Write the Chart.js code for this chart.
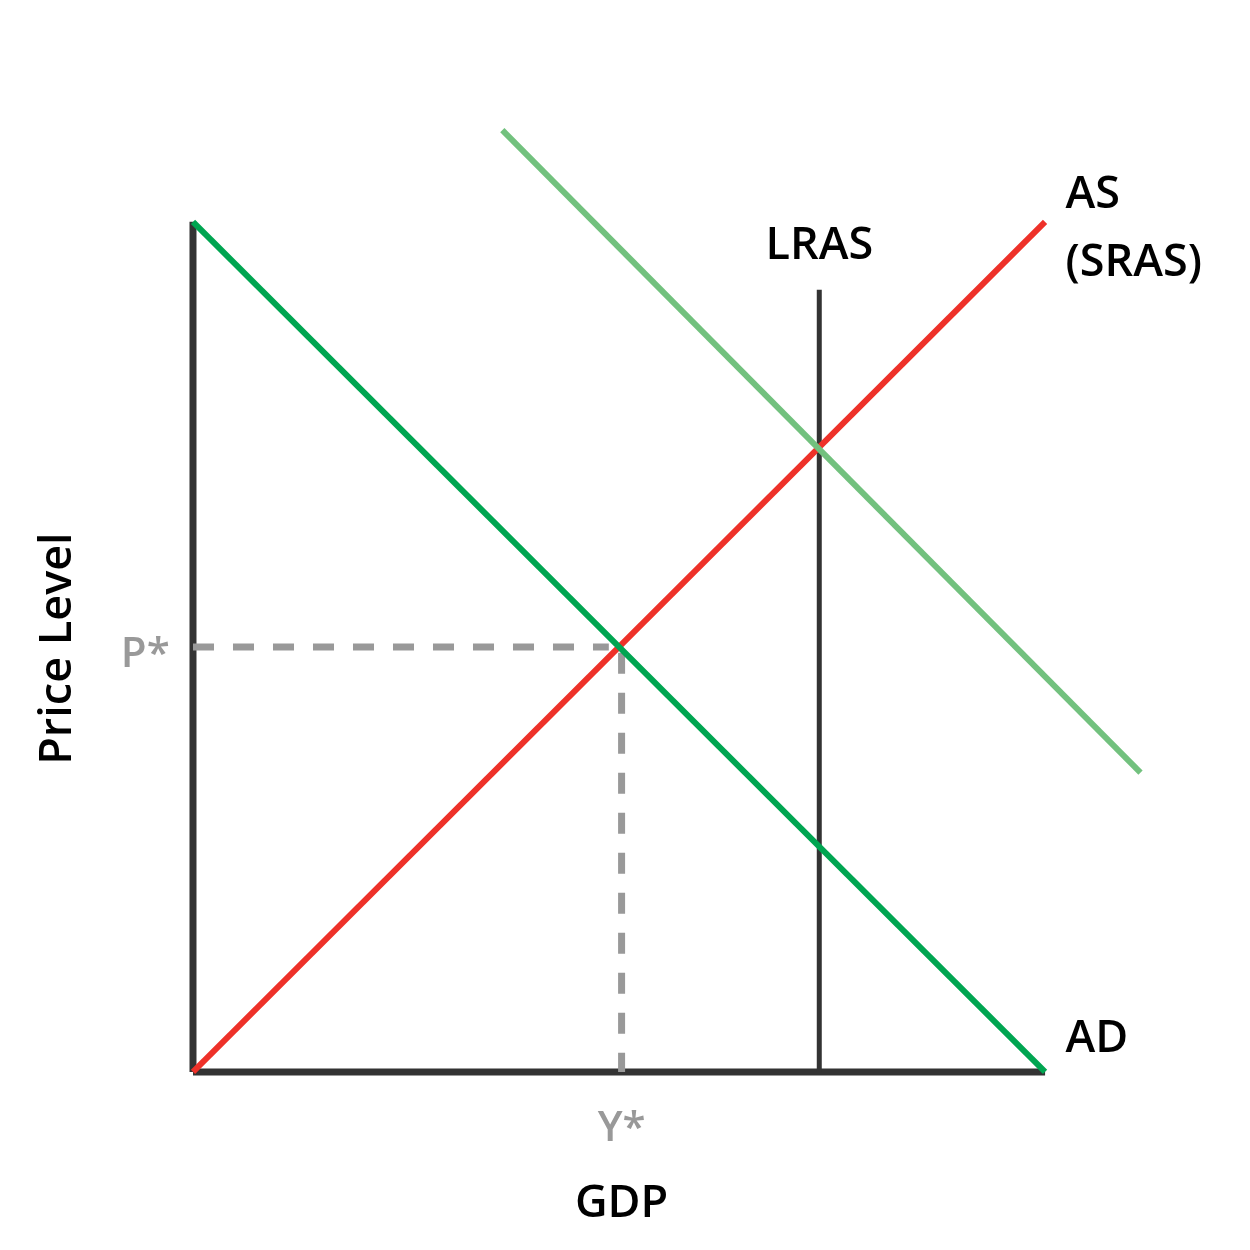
<!DOCTYPE html>
<html>
<head>
<meta charset="utf-8">
<script src="https://cdn.jsdelivr.net/npm/chart.js@4.4.0/dist/chart.umd.min.js"></script>
<style>
  html, body { margin: 0; padding: 0; background: #fff; }
  #wrap { width: 1250px; height: 1250px; position: relative; }
</style>
</head>
<body>
<div id="wrap"><canvas id="chart"></canvas></div>
<script>
// economic units: GDP and price level both run 0..100 inside the axes
const adCurve    = [{ x: 0, y: 100 }, { x: 100, y: 0 }];
const asCurve    = [{ x: 0, y: 0 }, { x: 100, y: 100 }];
const adShifted  = [{ x: 36.3, y: 110.8 }, { x: 111.2, y: 35.2 }];
const lrasLine   = [{ x: 73.5, y: 0 }, { x: 73.5, y: 92 }];
const yAxisLine  = [{ x: 0, y: 0 }, { x: 0, y: 100 }];
const xAxisLine  = [{ x: 0, y: 0 }, { x: 100, y: 0 }];
const pStarGuide = [{ x: 0, y: 50 }, { x: 48.8, y: 50 }];
const yStarGuide = [{ x: 50.3, y: 49.3 }, { x: 50.3, y: 0 }];

// scale window so that the axes sit where the picture has them
const xRange = [-22.65, 124.05];
const yRange = [-20.95, 126.1];

const FONT = "'Open Sans', Lato, sans-serif";

function line(data, color, width, dash) {
  return {
    data,
    borderColor: color,
    borderWidth: width,
    borderDash: dash || [],
    borderCapStyle: "butt",
    pointRadius: 0,
    fill: false,
    tension: 0
  };
}

// 🔹 text labels drawn in data space
const labelPlugin = {
  id: "labels",
  afterDatasetsDraw(chart) {
    const { ctx, scales: { x, y } } = chart;
    ctx.save();
    ctx.textBaseline = "alphabetic";

    ctx.fillStyle = "#000";
    ctx.font = `600 45px ${FONT}`;
    ctx.textAlign = "left";
    ctx.fillText("AS", x.getPixelForValue(102.4), y.getPixelForValue(101.6));
    ctx.fillText("(SRAS)", x.getPixelForValue(102.4), y.getPixelForValue(93.6));
    ctx.fillText("AD", x.getPixelForValue(102.4), y.getPixelForValue(2.3));
    ctx.textAlign = "center";
    ctx.fillText("LRAS", x.getPixelForValue(73.5), y.getPixelForValue(95.6));
    ctx.fillText("GDP", x.getPixelForValue(50.3), y.getPixelForValue(-17.1));

    ctx.save();
    ctx.translate(x.getPixelForValue(-14.3), y.getPixelForValue(49.8));
    ctx.rotate(-Math.PI / 2);
    ctx.fillText("Price Level", 0, 0);
    ctx.restore();

    ctx.fillStyle = "#999";
    ctx.font = `600 42px ${FONT}`;
    ctx.fillText("P*", x.getPixelForValue(-5.6), y.getPixelForValue(47.6));
    ctx.fillText("Y*", x.getPixelForValue(50.3), y.getPixelForValue(-8.1));
    ctx.restore();
  }
};

new Chart(document.getElementById("chart"), {
  type: "line",
  data: {
    datasets: [
      line(adShifted, "#72c17e", 6),
      line(adCurve, "#00a551", 6),
      line(asCurve, "#ee3129", 6),
      line(lrasLine, "#333333", 5),
      line(pStarGuide, "#999999", 7, [21, 19]),
      line(yStarGuide, "#999999", 7, [21, 19]),
      line(yAxisLine, "#333333", 7),
      line(xAxisLine, "#333333", 7)
    ]
  },
  options: {
    responsive: true,
    maintainAspectRatio: false,
    animation: false,
    layout: { padding: 0 },
    plugins: { legend: { display: false }, tooltip: { enabled: false } },
    scales: {
      x: { type: "linear", min: xRange[0], max: xRange[1], display: false },
      y: { type: "linear", min: yRange[0], max: yRange[1], display: false }
    }
  },
  plugins: [labelPlugin]
});
</script>
</body>
</html>
